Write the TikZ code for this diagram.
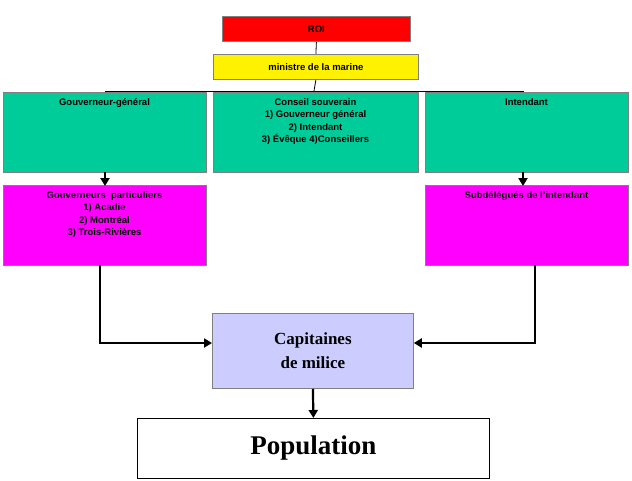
\documentclass[tikz,border=0pt]{standalone}
\usepackage{fontspec}
\setmainfont{Liberation Sans}
\newfontfamily\serifb{Liberation Serif}
\usetikzlibrary{arrows.meta}
\definecolor{grn}{RGB}{0,204,153}
\definecolor{mag}{RGB}{255,0,255}
\definecolor{lav}{RGB}{204,204,255}
\tikzset{
  box/.style={draw=gray, line width=0.8pt, anchor=north west, inner sep=0pt, font=\bfseries\fontsize{9.5}{12.5}\selectfont, align=center},
  conn/.style={line width=2.2pt, -{Triangle[length=8pt,width=9pt]}},
  thin/.style={line width=0.8pt}
}
\begin{document}
\begin{tikzpicture}[x=1pt,y=-1pt]
\useasboundingbox (0,0) rectangle (632,480);
\node[box, fill=red, minimum width=188pt, minimum height=25pt] (roi) at (222,16) {ROI};
\node[box, fill=yellow, minimum width=205pt, minimum height=25pt] (min) at (213,54) {ministre de la marine};
\node[box, fill=grn, minimum width=203pt, minimum height=80pt] (gg) at (3,92) {};
\node[anchor=north, font=\bfseries\fontsize{9.5}{12.5}\selectfont] at (104.5,95) {Gouverneur-général};
\node[box, fill=grn, minimum width=205pt, minimum height=80pt] (cs) at (213,92) {};
\node[anchor=north, align=center, font=\bfseries\fontsize{9.5}{12.5}\selectfont] at (315.5,95) {Conseil souverain\\1) Gouverneur général\\2) Intendant\\3) Évêque 4)Conseillers};
\node[box, fill=grn, minimum width=203pt, minimum height=80pt] (int) at (425,92) {};
\node[anchor=north, font=\bfseries\fontsize{9.5}{12.5}\selectfont] at (526.5,95) {Intendant};
\node[box, fill=mag, minimum width=203pt, minimum height=80pt] (gp) at (3,185) {};
\node[anchor=north, align=center, font=\bfseries\fontsize{9.5}{12.5}\selectfont] at (104.5,188) {Gouverneurs\ \ particuliers\\1) Acadie\\2) Montréal\\3) Trois-Rivières};
\node[box, fill=mag, minimum width=203pt, minimum height=80pt] (sd) at (425,185) {};
\node[anchor=north, font=\bfseries\fontsize{9.5}{12.5}\selectfont] at (526.5,188) {Subdélégués de l'intendant};
\node[box, fill=lav, minimum width=201pt, minimum height=75pt, font=\serifb\bfseries\fontsize{17}{24}\selectfont] (cap) at (212,313) {Capitaines\\de milice};
\node[box, fill=white, draw=black, minimum width=352pt, minimum height=60pt, font=\serifb\bfseries\fontsize{27}{30}\selectfont] (pop) at (137,418) {Population};
\coordinate (bar) at (314,91);
\draw[thin] (roi.south) -- (min.north);
\draw[thin] (min.south) -- (bar);
\draw[thin] (105,92) -- (105,91) -- (523,91) -- (523,92);
\draw[conn] (105,172) -- (105,186);
\draw[conn] (523,172) -- (523,186);
\draw[conn] (100,265) -- (100,343) -- (cap.west |- 0,343);
\draw[conn] (535,265) -- (535,343) -- (cap.east |- 0,343);
\draw[conn] (cap.south) -- (pop.north);
\end{tikzpicture}
\end{document}
